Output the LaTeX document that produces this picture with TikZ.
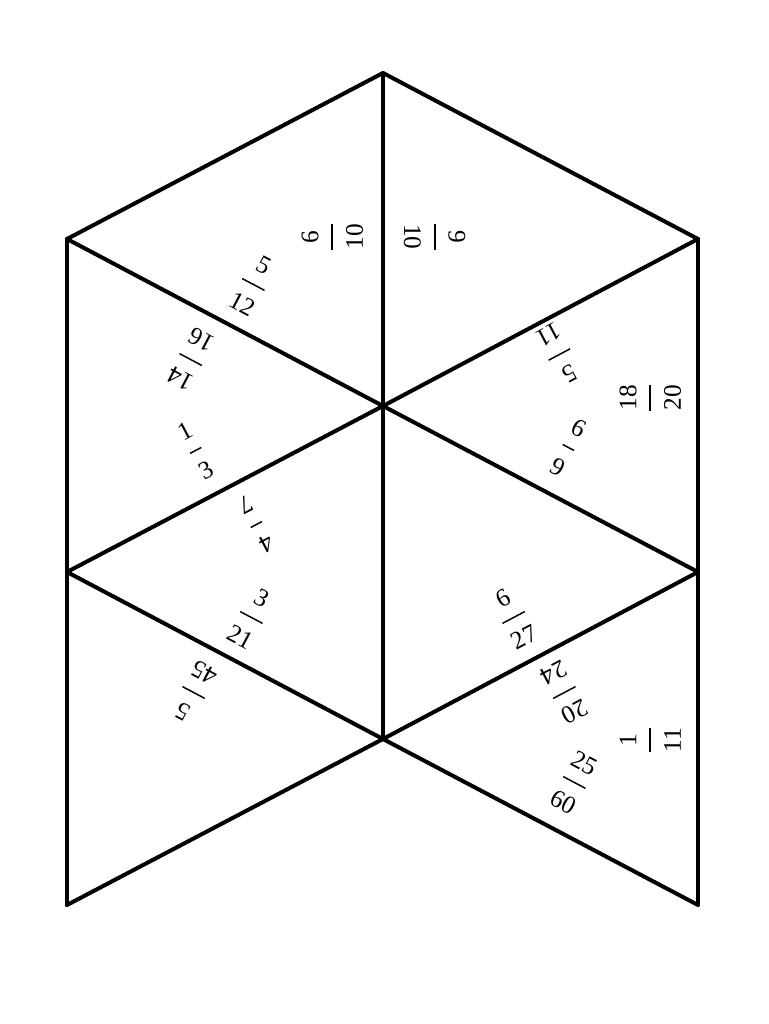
\documentclass[tikz,border=0pt]{standalone}
\usepackage{fontspec}
\setmainfont{Liberation Serif}
\setlength{\arrayrulewidth}{1.1pt}
\newcommand{\fr}[2]{\begin{tabular}{@{}c@{}}#1\\[3.5pt]\hline\rule{0pt}{22.5pt}#2\end{tabular}}
\begin{document}
\begin{tikzpicture}[x=0.75pt,y=0.75pt,
  edge/.style={line width=3pt,line cap=round,line join=round},
  lab/.style={inner sep=0pt,font=\fontsize{19}{21}\selectfont}]
\useasboundingbox (0,0) rectangle (768,1024);
\coordinate (T) at (383,951);
\coordinate (LU) at (67,785);
\coordinate (RU) at (698,785);
\coordinate (CU) at (383,618);
\coordinate (LM) at (67,452);
\coordinate (RM) at (698,452);
\coordinate (CL) at (383,285);
\coordinate (LB) at (67,119);
\coordinate (RB) at (698,119);
\draw[edge] (LU) -- (T) -- (RU);
\draw[edge] (T) -- (CL);
\draw[edge] (LU) -- (LB);
\draw[edge] (RU) -- (RB);
\draw[edge] (LU) -- (CU) -- (RU);
\draw[edge] (LM) -- (CU) -- (RM);
\draw[edge] (LM) -- (CL) -- (RM);
\draw[edge] (LB) -- (CL) -- (RB);
\node[lab,rotate=90] (f1) at (335,787) {\fr{6}{10}};
\node[lab,rotate=-90] (f2) at (432,787) {\fr{9}{10}};
\node[lab,rotate=-27.9] (f3) at (252,737) {\fr{5}{12}};
\node[lab,rotate=152.1] (f4) at (192,667) {\fr{14}{16}};
\node[lab,rotate=27.9] (f5) at (197,571) {\fr{1}{3}};
\node[lab,rotate=207.9] (f6) at (255,502) {\fr{4}{7}};
\node[lab,rotate=207.9] (f7) at (558,672) {\fr{5}{11}};
\node[lab,rotate=90] (f8) at (653,626) {\fr{18}{20}};
\node[lab,rotate=-27.9] (f9) at (567,574) {\fr{6}{9}};
\node[lab,rotate=-27.9] (f10) at (250,404) {\fr{3}{21}};
\node[lab,rotate=152.1] (f11) at (195,334) {\fr{5}{45}};
\node[lab,rotate=27.9] (f12) at (515,404) {\fr{6}{27}};
\node[lab,rotate=207.9] (f13) at (563,334) {\fr{20}{24}};
\node[lab,rotate=-27.9] (f14) at (573,239) {\fr{25}{60}};
\node[lab,rotate=90] (f15) at (653,284) {\fr{1}{11}};
\end{tikzpicture}
\end{document}
